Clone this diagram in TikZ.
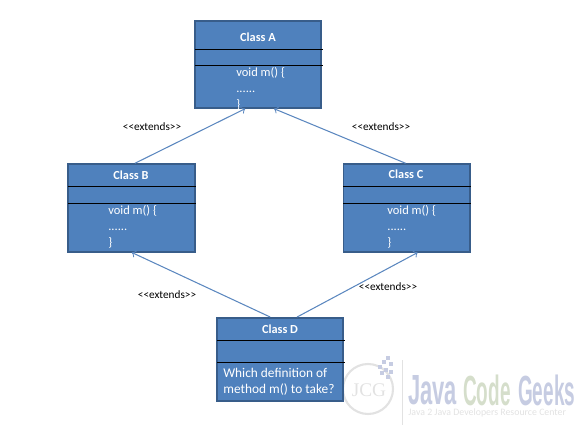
\documentclass[tikz,border=0pt]{standalone}
\usepackage{fontspec}
\setmainfont{Carlito}
\newfontfamily\logofont{Liberation Sans}
\newfontfamily\logoserif{Liberation Serif}
\definecolor{classfill}{HTML}{4F81BD}
\definecolor{classedge}{HTML}{385D8A}
\definecolor{extendsline}{HTML}{5B87BF}
\definecolor{logoblue}{HTML}{C6CCE2}
\definecolor{logogreen}{HTML}{D5DECB}
\definecolor{logogray}{HTML}{E2E2E2}
\tikzset{
  classbox/.style={draw=classedge, fill=classfill, line width=1pt, minimum width=2.53cm,
                   inner sep=0pt, anchor=north west},
  classname/.style={font=\fontsize{7}{8}\selectfont\bfseries, text=white, inner sep=0pt},
  classtext/.style={font=\fontsize{7.1}{9}\selectfont, text=white, inner sep=0pt, anchor=north west,
                    align=left},
  divider/.style={draw=black, line width=0.5pt},
  extends/.style={->, draw=extendsline, line width=0.6pt},
  extendslabel/.style={font=\fontsize{6.4}{7}\selectfont, inner sep=0pt},
  logoword/.style={font=\logofont\bfseries\fontsize{24}{24}\selectfont, inner sep=0pt, anchor=west, transform shape},
}

\begin{document}
\begin{tikzpicture}[x=0.02cm, y=-0.02cm]
    \useasboundingbox (0,0) rectangle (581,428);
    % watermark
    \draw[logogray, line width=1.2pt] (368,389) circle[radius=25];
    \node[font=\logoserif\fontsize{11}{11}\selectfont, text=logogray, inner sep=0pt] (logoname) at (369,390) {JCG};
    \foreach \dotx/\doty in {380/367, 384/362, 388/358, 391/364, 386/370, 391/372, 382/373, 388/377}
      \fill[logoblue] (\dotx-1.7,\doty-1.7) rectangle (\dotx+1.7,\doty+1.7);
    \draw[logogray, line width=0.5pt] (402,360) -- (402,425);
    \node[logoword, text=logoblue, xscale=0.52] (logojava) at (408,390) {Java};
    \node[logoword, text=logogreen, xscale=0.45] (logocode) at (463,390) {Code};
    \node[logoword, text=logoblue, xscale=0.45] (logogeeks) at (518,390) {Geeks};
    \node[font=\fontsize{5.6}{6}\selectfont, text=logogray, inner sep=0pt, anchor=west] (logotag) at (408,413)
      {\textsc{Java 2 Java Developers Resource Center}};
    % class boxes
    \node[classbox, minimum height=1.73cm] (classA) at (194,20.5) {};
    \node[classbox, minimum height=1.75cm] (classB) at (67.3,163.3) {};
    \node[classbox, minimum height=1.75cm] (classC) at (342.5,163.3) {};
    \node[classbox, minimum height=1.66cm] (classD) at (216,317) {};
    \coordinate (dividerA1) at (195,49.3);
    \coordinate (dividerA2) at (195,65.3);
    \coordinate (dividerB1) at (68,186.3);
    \coordinate (dividerB2) at (68,203.3);
    \coordinate (dividerC1) at (343,186.3);
    \coordinate (dividerC2) at (343,203.3);
    \coordinate (dividerD1) at (217,340.7);
    \coordinate (dividerD2) at (217,362.3);
    \foreach \dividerline in {A1, A2, B1, B2, C1, C2, D1, D2}
      \draw[divider] (divider\dividerline) -- ++(128,0);
    \node[classname] (nameA) at (258,37) {Class A};
    \node[classname] (nameB) at (131,175) {Class B};
    \node[classname] (nameC) at (406,174) {Class C};
    \node[classname] (nameD) at (280,329) {Class D};
    \node[classtext] (bodyA) at (236,67) {void m() \{\\......\\\}};
    \node[classtext] (bodyB) at (108,205) {void m() \{\\......\\\}};
    \node[classtext] (bodyC) at (387,205) {void m() \{\\......\\\}};
    \node[classtext, font=\fontsize{7.6}{9}\selectfont] (bodyD) at (223,368) {Which definition of\\method m() to take?};
    % inheritance arrows
    \draw[extends] ([xshift=0.07cm]classB.north) -- ([xshift=-0.26cm]classA.south);
    \draw[extends] ([xshift=-0.02cm]classC.north) -- ([xshift=0.32cm]classA.south);
    \draw[extends] ([xshift=-0.2cm]classD.north) -- ([xshift=0.01cm]classB.south);
    \draw[extends] ([xshift=0.34cm]classD.north) -- ([xshift=0.22cm]classC.south);
    \node[extendslabel] (labelBA) at (152,127) {{<}{<}extends{>}{>}};
    \node[extendslabel] (labelCA) at (381,127) {{<}{<}extends{>}{>}};
    \node[extendslabel] (labelDB) at (167,295) {{<}{<}extends{>}{>}};
    \node[extendslabel] (labelDC) at (388,287) {{<}{<}extends{>}{>}};
\end{tikzpicture}
\end{document}
